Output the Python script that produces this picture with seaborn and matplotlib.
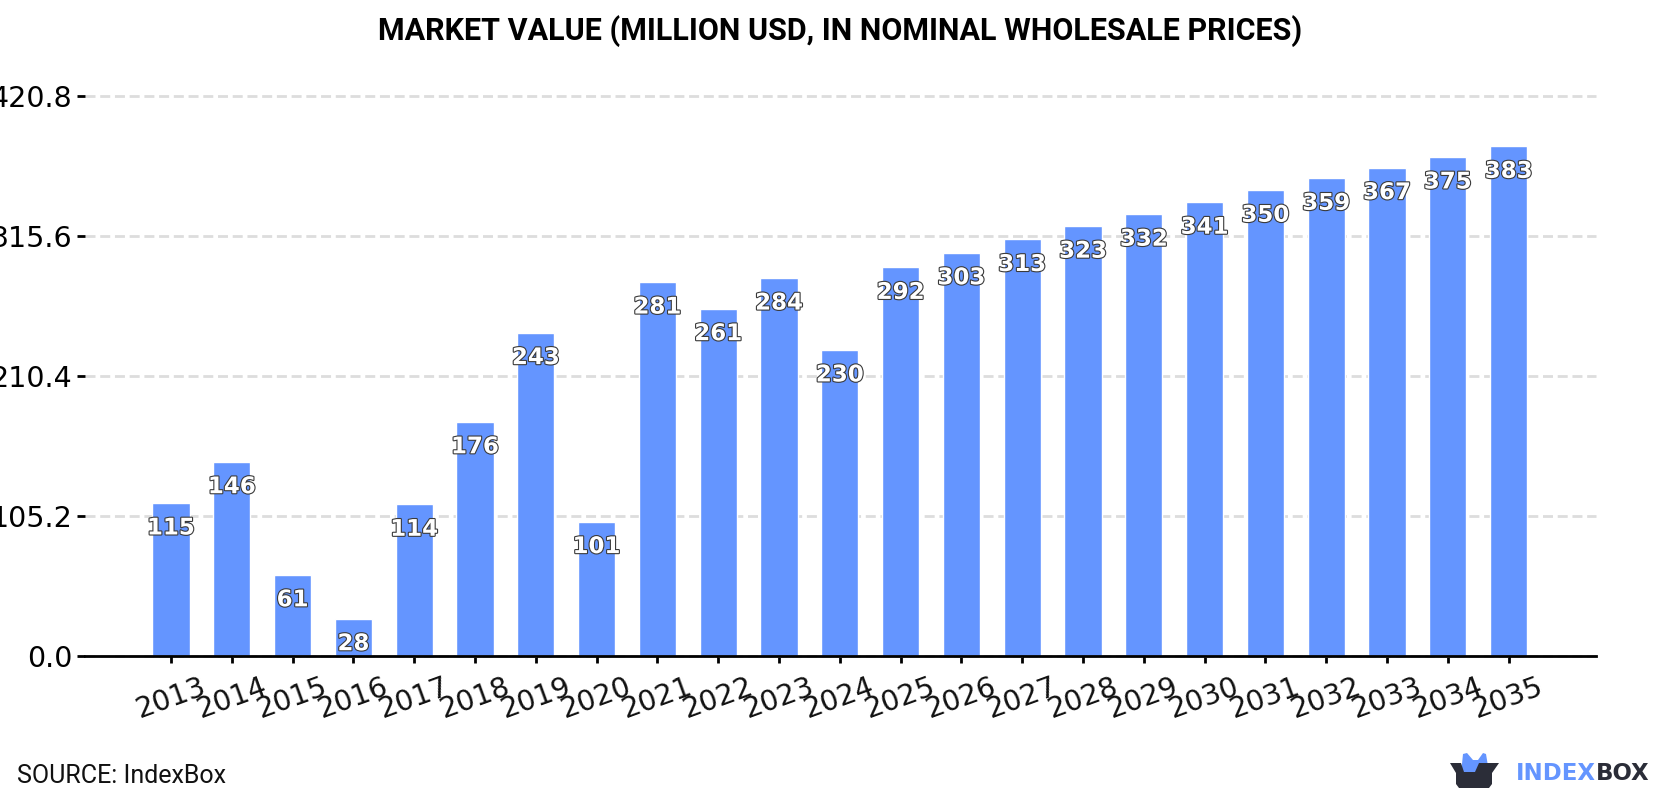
import matplotlib
matplotlib.use("Agg")
import matplotlib.pyplot as plt
import matplotlib.patheffects as pe
from matplotlib.patches import Polygon
import pandas as pd
import seaborn as sns

years = [2013, 2014, 2015, 2016, 2017, 2018, 2019, 2020, 2021, 2022, 2023, 2024,
         2025, 2026, 2027, 2028, 2029, 2030, 2031, 2032, 2033, 2034, 2035]
values = [115, 146, 61, 28, 114, 176, 243, 101, 281, 261, 284, 230,
          292, 303, 313, 323, 332, 341, 350, 359, 367, 375, 383]
y_ticks = [0.0, 105.2, 210.4, 315.6, 420.8]
title = "MARKET VALUE (MILLION USD, IN NOMINAL WHOLESALE PRICES)"
source = "SOURCE: IndexBox"

BLUE = "#6495ff"
DARK = "#2b2d38"
W, H = 1680, 800

sns.set_theme(style="white")
plt.rcParams["font.family"] = ["DejaVu Sans"]

df = pd.DataFrame({"year": [str(y) for y in years], "value": values})

fig = plt.figure(figsize=(W / 100, H / 100), dpi=100, facecolor="white")
ax = fig.add_axes([85 / W, 1 - 656 / H, (1596 - 85) / W, (656 - 96) / H])
ax.set_axisbelow(True)

sns.barplot(data=df, x="year", y="value", color=BLUE, saturation=1, width=0.61, ax=ax)

ax.set_xlim(-1.414, 23.438)
ax.set_ylim(0, 420.8)
ax.set_xlabel("")
ax.set_ylabel("")
ax.set_yticks(y_ticks, [f"{t:.1f}" for t in y_ticks])
ax.yaxis.grid(True, color="#dddddd", linestyle=(0, (3.6, 1.7)), linewidth=2, clip_on=False)
ax.xaxis.grid(False)
ax.tick_params(axis="y", length=6, width=2, color="black", labelsize=20.5, pad=3,
               labelcolor="black", left=True)
ax.tick_params(axis="x", length=5, width=2, color="black", labelsize=20.5, pad=7,
               labelcolor="#111111", bottom=True, labelrotation=20)

for side in ("top", "right", "left"):
    ax.spines[side].set_visible(False)
ax.spines["bottom"].set_color("black")
ax.spines["bottom"].set_linewidth(2)

# Value labels sit just inside the top of each bar
for i, v in enumerate(values):
    ax.annotate(str(v), xy=(i, v), xytext=(0, -18), textcoords="offset points",
                ha="center", va="center", fontsize=16.5, fontweight="bold", color="white",
                path_effects=[pe.withStroke(linewidth=1.6, foreground="#3a3a3a")])

fig.text(0.5 * (378 + 1302) / W, 1 - 31 / H, title, ha="center", va="center",
         family="Roboto", fontweight="bold", fontsize=22, color="black")
fig.text(17 / W, 1 - 776 / H, source, ha="left", va="center",
         family="Roboto", fontsize=18, color="#111111")

# IndexBox wordmark, bottom right
def px(points):
    return [(x / W, 1 - y / H) for x, y in points]

fig.add_artist(Polygon(px([(1461, 774), (1463, 754), (1467, 753), (1473, 760), (1478, 760),
                           (1483, 753), (1486, 754), (1489, 772), (1475, 774)]),
                       closed=True, transform=fig.transFigure, facecolor=BLUE, edgecolor="none"))
fig.add_artist(Polygon(px([(1450, 763), (1461, 763), (1464, 772), (1475, 772), (1479, 763),
                           (1499, 763), (1492, 773), (1492, 784), (1489, 788), (1459, 788),
                           (1456, 784), (1456, 773)]),
                       closed=True, transform=fig.transFigure, facecolor=DARK, edgecolor="none"))
fig.text(1516 / W, 1 - 774 / H, "INDEX", ha="left", va="center",
         fontweight="bold", fontsize=16.5, color=BLUE)
fig.text(1596 / W, 1 - 774 / H, "BOX", ha="left", va="center",
         fontweight="bold", fontsize=16.5, color=DARK)

fig.savefig("out.png", dpi=100, facecolor="white")
